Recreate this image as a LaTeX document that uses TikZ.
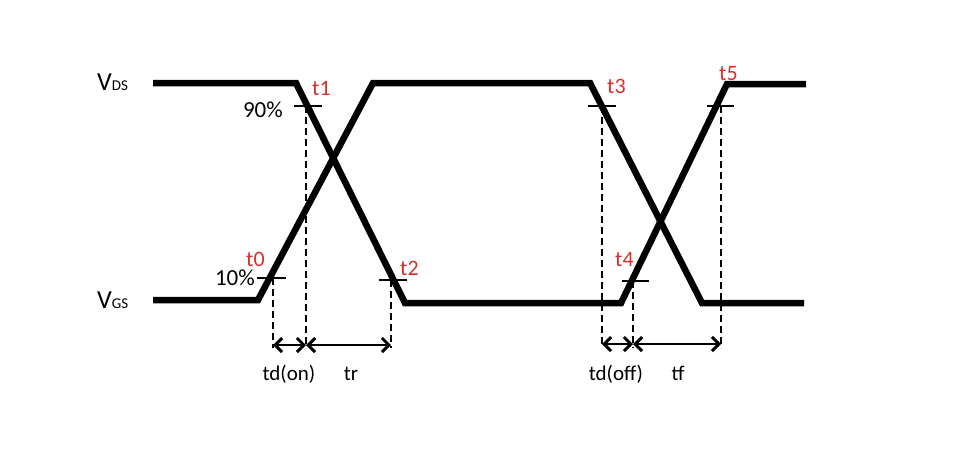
\documentclass[tikz,border=0pt]{standalone}
\usepackage{fontspec}
\setmainfont{Carlito}
\usetikzlibrary{arrows.meta}
\definecolor{tred}{RGB}{214,48,44}
\tikzset{
  wave/.style={line width=6.5pt, line join=miter, line cap=butt},
  tickmark/.style={line width=2.4pt},
  guide/.style={line width=2.4pt, dash pattern=on 7pt off 4pt},
  span/.style={line width=2.2pt, {Straight Barb[length=7pt,width=14pt,line width=3pt]}-{Straight Barb[length=7pt,width=14pt,line width=3pt]}},
  tlabel/.style={text=tred, font=\fontsize{22}{24}\selectfont, inner sep=0pt},
  pct/.style={font=\fontsize{23}{25}\selectfont, inner sep=0pt},
  blabel/.style={font=\fontsize{21}{23}\selectfont, inner sep=0pt},
  vlabel/.style={font=\fontsize{26}{28}\selectfont, inner sep=0pt}
}
\begin{document}
\begin{tikzpicture}[x=1pt,y=-1pt]
\useasboundingbox (0,0) rectangle (963,451);
% VDS waveform
\coordinate (d0) at (153,83);
\coordinate (d1) at (296,83);
\coordinate (d2) at (405,303);
\coordinate (d3) at (621,303);
\coordinate (d4) at (727,84);
\coordinate (d5) at (806,84);
\draw[wave] (d0) -- (d1) -- (d2) -- (d3) -- (d4) -- (d5);
% VGS waveform
\coordinate (g0) at (153,300);
\coordinate (g1) at (258,300);
\coordinate (g2) at (373,83);
\coordinate (g3) at (590,83);
\coordinate (g4) at (702,303);
\coordinate (g5) at (804,303);
\draw[wave] (g0) -- (g1) -- (g2) -- (g3) -- (g4) -- (g5);
% tick marks
\coordinate (k0a) at (257,278); \coordinate (k0b) at (286,278);
\coordinate (k1a) at (294,106); \coordinate (k1b) at (322,106);
\coordinate (k2a) at (379,280); \coordinate (k2b) at (407,280);
\coordinate (k3a) at (588,106); \coordinate (k3b) at (616,106);
\coordinate (k4a) at (622,281); \coordinate (k4b) at (649,281);
\coordinate (k5a) at (707,106); \coordinate (k5b) at (734,106);
\foreach \k in {0,...,5}{\draw[tickmark] (k\k a) -- (k\k b);}
% dashed guides
\coordinate (p0) at (273,278); \coordinate (q0) at (273,348);
\coordinate (p1) at (306,106); \coordinate (q1) at (306,348);
\coordinate (p2) at (391,280); \coordinate (q2) at (391,348);
\coordinate (p3) at (602,106); \coordinate (q3) at (602,348);
\coordinate (p4) at (633,281); \coordinate (q4) at (633,348);
\coordinate (p5) at (721,106); \coordinate (q5) at (721,348);
\foreach \k in {0,...,5}{\draw[guide] (p\k) -- (q\k);}
% spans
\coordinate (a0) at (273,345); \coordinate (a1) at (306,345);
\coordinate (a2) at (391,345); \coordinate (a3) at (602,344);
\coordinate (a4) at (633,344); \coordinate (a5) at (721,344);
\draw[span] (a0) -- (a1);
\draw[span] (a1) -- (a2);
\draw[span] (a3) -- (a4);
\draw[span] (a4) -- (a5);
% labels
\node[vlabel, anchor=base west] (vds) at (97,90) {V\fontsize{15}{16}\selectfont DS};
\node[vlabel, anchor=base west] (vgs) at (97,308) {V\fontsize{15}{16}\selectfont GS};
\node[pct, anchor=base east] (p90) at (283,117) {90\%};
\node[pct, anchor=base east] (p10) at (255,285) {10\%};
\node[tlabel, anchor=base west] (t0) at (246,266) {t0};
\node[tlabel, anchor=base west] (t1) at (312,95) {t1};
\node[tlabel, anchor=base west] (t2) at (400,275) {t2};
\node[tlabel, anchor=base west] (t3) at (607,93) {t3};
\node[tlabel, anchor=base west] (t4) at (615,266) {t4};
\node[tlabel, anchor=base west] (t5) at (719,80) {t5};
\node[blabel, anchor=base] (ton) at (289,380) {td(on)};
\node[blabel, anchor=base] (tr) at (351,380) {tr};
\node[blabel, anchor=base] (toff) at (616,380) {td(off)};
\node[blabel, anchor=base] (tf) at (678,380) {tf};
\end{tikzpicture}
\end{document}
